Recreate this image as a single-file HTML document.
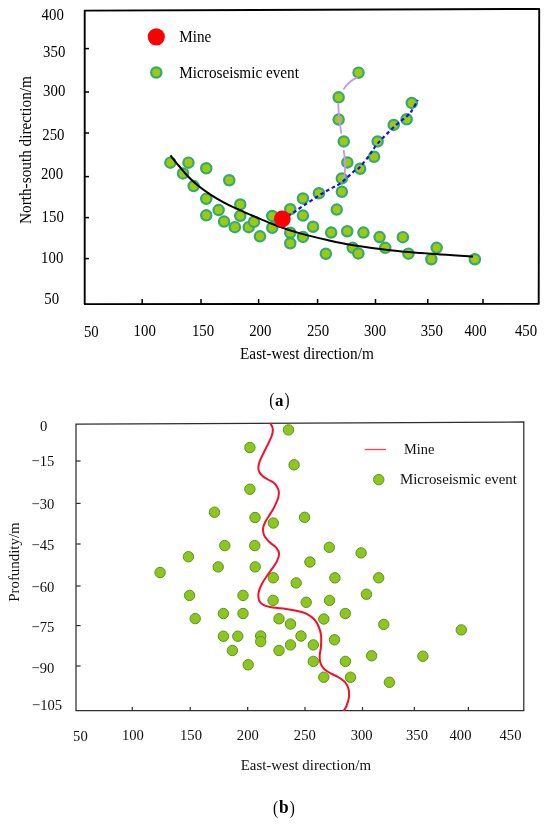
<!DOCTYPE html>
<html lang="en">
<head>
<meta charset="utf-8">
<title>Figure</title>
<style>
html,body{margin:0;padding:0;background:#fff;}
body{width:550px;height:824px;overflow:hidden;}
svg{display:block;}
</style>
</head>
<body>
<svg width="550" height="824" viewBox="0 0 550 824">
<rect width="550" height="824" fill="#fff"/>
<path d="M84.7,10.6 L539.2,8.9 L538.7,303.9 L84.7,304.1 Z" fill="none" stroke="#000" stroke-width="1.9" stroke-linejoin="round"/>
<line x1="84.7" y1="48.6" x2="89.0" y2="48.6" stroke="#000" stroke-width="1.5"/>
<line x1="84.7" y1="92" x2="89.0" y2="92" stroke="#000" stroke-width="1.5"/>
<line x1="84.7" y1="133" x2="89.0" y2="133" stroke="#000" stroke-width="1.5"/>
<line x1="84.7" y1="176.6" x2="89.0" y2="176.6" stroke="#000" stroke-width="1.5"/>
<line x1="84.7" y1="217.6" x2="89.0" y2="217.6" stroke="#000" stroke-width="1.5"/>
<line x1="84.7" y1="258.6" x2="89.0" y2="258.6" stroke="#000" stroke-width="1.5"/>
<line x1="142.2" y1="304.0" x2="142.2" y2="299.0" stroke="#000" stroke-width="1.5"/>
<line x1="201" y1="304.0" x2="201" y2="299.0" stroke="#000" stroke-width="1.5"/>
<line x1="258.6" y1="304.0" x2="258.6" y2="299.0" stroke="#000" stroke-width="1.5"/>
<line x1="317.6" y1="304.0" x2="317.6" y2="299.0" stroke="#000" stroke-width="1.5"/>
<line x1="375.5" y1="304.0" x2="375.5" y2="299.0" stroke="#000" stroke-width="1.5"/>
<line x1="427.8" y1="304.0" x2="427.8" y2="299.0" stroke="#000" stroke-width="1.5"/>
<line x1="483.0" y1="304.0" x2="483.0" y2="299.0" stroke="#000" stroke-width="1.5"/>
<g font-family="'Liberation Serif', serif" fill="#000">
<text transform="translate(52.7,20.2) scale(1,1.07)" font-size="14.8" text-anchor="middle">400</text>
<text transform="translate(54.2,57) scale(1,1.07)" font-size="14.8" text-anchor="middle">350</text>
<text transform="translate(54.2,95.6) scale(1,1.07)" font-size="14.8" text-anchor="middle">300</text>
<text transform="translate(53.4,139.6) scale(1,1.07)" font-size="14.8" text-anchor="middle">250</text>
<text transform="translate(52.0,178.7) scale(1,1.07)" font-size="14.8" text-anchor="middle">200</text>
<text transform="translate(52.7,221.6) scale(1,1.07)" font-size="14.8" text-anchor="middle">150</text>
<text transform="translate(52.2,263) scale(1,1.07)" font-size="14.8" text-anchor="middle">100</text>
<text transform="translate(51.7,304.4) scale(1,1.07)" font-size="14.8" text-anchor="middle">50</text>
<text transform="translate(91.3,336.6) scale(1,1.07)" font-size="14.8" text-anchor="middle">50</text>
<text transform="translate(144.7,335.8) scale(1,1.07)" font-size="14.8" text-anchor="middle">100</text>
<text transform="translate(203.0,335.8) scale(1,1.07)" font-size="14.8" text-anchor="middle">150</text>
<text transform="translate(260.3,335.8) scale(1,1.07)" font-size="14.8" text-anchor="middle">200</text>
<text transform="translate(318,335.8) scale(1,1.07)" font-size="14.8" text-anchor="middle">250</text>
<text transform="translate(375,335.8) scale(1,1.07)" font-size="14.8" text-anchor="middle">300</text>
<text transform="translate(431.8,335.8) scale(1,1.07)" font-size="14.8" text-anchor="middle">350</text>
<text transform="translate(475.5,335.8) scale(1,1.07)" font-size="14.8" text-anchor="middle">400</text>
<text transform="translate(526,335.8) scale(1,1.07)" font-size="14.8" text-anchor="middle">450</text>
<text transform="translate(240,359.4) scale(1,1.06)" font-size="15.2" textLength="133.8" lengthAdjust="spacingAndGlyphs">East-west direction/m</text>
<text transform="translate(31.3,224) rotate(-90) scale(1,1.08)" font-size="15.2" textLength="148" lengthAdjust="spacingAndGlyphs">North-south direction/m</text>
<text transform="translate(179.3,42.2) scale(1,1.05)" font-size="15.4" textLength="32" lengthAdjust="spacingAndGlyphs">Mine</text>
<text transform="translate(179.3,78.3) scale(1,1.05)" font-size="15.4" textLength="119.6" lengthAdjust="spacingAndGlyphs">Microseismic event</text>
<text transform="translate(269.2,405.7) scale(0.95,1.13)" font-size="16">(</text>
<text transform="translate(275.0,405.7) scale(1.06,0.98)" font-size="16" font-weight="bold">a</text>
<text transform="translate(284.5,405.7) scale(0.95,1.13)" font-size="16">)</text>
</g>
<g fill="#9bcb0b" stroke="#34a876" stroke-width="2.2">
<circle cx="170.35" cy="162.65" r="5.15"/>
<circle cx="188.45" cy="162.65" r="5.15"/>
<circle cx="183.05" cy="173.45" r="5.15"/>
<circle cx="206.25" cy="168.25" r="5.15"/>
<circle cx="193.65" cy="186.05" r="5.15"/>
<circle cx="229.25" cy="180.25" r="5.15"/>
<circle cx="206.25" cy="198.85" r="5.15"/>
<circle cx="240.25" cy="204.45" r="5.15"/>
<circle cx="218.65" cy="210.05" r="5.15"/>
<circle cx="206.25" cy="215.35" r="5.15"/>
<circle cx="240.25" cy="215.85" r="5.15"/>
<circle cx="224.05" cy="221.55" r="5.15"/>
<circle cx="234.85" cy="227.15" r="5.15"/>
<circle cx="248.75" cy="227.15" r="5.15"/>
<circle cx="254.05" cy="221.75" r="5.15"/>
<circle cx="259.95" cy="236.35" r="5.15"/>
<circle cx="272.25" cy="215.95" r="5.15"/>
<circle cx="272.25" cy="227.75" r="5.15"/>
<circle cx="290.25" cy="209.25" r="5.15"/>
<circle cx="290.25" cy="232.75" r="5.15"/>
<circle cx="290.25" cy="243.25" r="5.15"/>
<circle cx="302.95" cy="198.45" r="5.15"/>
<circle cx="302.95" cy="215.55" r="5.15"/>
<circle cx="302.95" cy="236.95" r="5.15"/>
<circle cx="318.95" cy="193.25" r="5.15"/>
<circle cx="313.05" cy="226.75" r="5.15"/>
<circle cx="325.85" cy="253.75" r="5.15"/>
<circle cx="331.15" cy="232.55" r="5.15"/>
<circle cx="336.75" cy="209.55" r="5.15"/>
<circle cx="341.85" cy="191.75" r="5.15"/>
<circle cx="341.85" cy="178.45" r="5.15"/>
<circle cx="360.15" cy="168.75" r="5.15"/>
<circle cx="347.25" cy="231.25" r="5.15"/>
<circle cx="352.75" cy="247.85" r="5.15"/>
<circle cx="358.35" cy="253.45" r="5.15"/>
<circle cx="363.45" cy="232.55" r="5.15"/>
<circle cx="379.55" cy="237.05" r="5.15"/>
<circle cx="385.25" cy="247.85" r="5.15"/>
<circle cx="402.85" cy="237.15" r="5.15"/>
<circle cx="408.45" cy="253.65" r="5.15"/>
<circle cx="431.35" cy="259.25" r="5.15"/>
<circle cx="436.65" cy="247.85" r="5.15"/>
<circle cx="474.85" cy="259.25" r="5.15"/>
<circle cx="358.55" cy="72.65" r="5.15"/>
<circle cx="338.65" cy="97.35" r="5.15"/>
<circle cx="338.65" cy="119.55" r="5.15"/>
<circle cx="343.75" cy="141.45" r="5.15"/>
<circle cx="347.35" cy="162.45" r="5.15"/>
<circle cx="411.75" cy="102.95" r="5.15"/>
<circle cx="406.65" cy="119.25" r="5.15"/>
<circle cx="393.75" cy="124.95" r="5.15"/>
<circle cx="377.65" cy="141.45" r="5.15"/>
<circle cx="374.05" cy="156.75" r="5.15"/>
<circle cx="156.3" cy="72.5" r="5.15"/>
</g>
<path d="M357.3,77.4 Q349,81 343.4,89.4" fill="none" stroke="#c996ee" stroke-width="1.8"/>
<path d="M338.2,103.5 Q338.4,119 341.4,133.6" fill="none" stroke="#c996ee" stroke-width="1.8"/>
<path d="M343.7,150 Q346.5,167 343.8,180" fill="none" stroke="#c996ee" stroke-width="1.8"/>
<path d="M170.5,155.3 C171.1,156.1 172.7,158.4 174.0,160.0 C175.3,161.6 176.0,162.4 178.2,165.0 C180.4,167.6 184.0,172.2 187.3,175.7 C190.6,179.1 194.3,182.5 198.2,185.7 C202.1,188.9 206.7,192.0 210.9,194.8 C215.1,197.6 219.3,200.0 223.6,202.3 C227.8,204.6 231.8,206.5 236.4,208.6 C241.0,210.7 247.0,213.3 250.9,215.0 C254.8,216.7 255.9,217.1 260.0,218.8 C264.1,220.5 268.6,222.8 275.4,225.3 C282.2,227.8 292.2,231.2 300.9,233.6 C309.5,236.0 318.8,238.1 327.3,240.0 C335.8,241.9 341.4,243.3 351.8,245.0 C362.2,246.7 378.5,248.9 390.0,250.2 C401.5,251.5 407.2,251.9 421.0,253.0 C434.8,254.1 464.3,255.9 473.0,256.5" fill="none" stroke="#000" stroke-width="2.0"/>
<path d="M282.0,219.0 C283.4,218.2 287.2,216.4 290.7,214.3 C294.1,212.2 298.0,209.3 302.7,206.2 C307.4,203.1 314.0,198.6 318.8,195.6 C323.6,192.6 327.7,190.4 331.4,188.3 C335.1,186.2 337.2,185.9 341.0,183.0 C344.8,180.1 351.2,173.6 354.3,171.0 C357.4,168.4 357.4,169.8 359.8,167.3 C362.2,164.8 365.8,160.1 368.7,156.2 C371.6,152.3 373.1,148.9 377.3,144.0 C381.5,139.1 389.2,131.4 394.1,126.8 C399.0,122.2 403.9,119.0 406.9,116.3 C409.9,113.5 410.2,113.0 412.0,110.3 C413.8,107.6 416.8,101.7 417.8,100.0" fill="none" stroke="#1010f5" stroke-width="2.2" stroke-dasharray="3.6 2.9"/>
<circle cx="282.3" cy="219" r="8.4" fill="#ff0000"/>
<circle cx="156.3" cy="36.8" r="8.6" fill="#ff0000"/>
<path d="M76,424.2 L523.8,422.0 L523.8,710.7 L76,710.7 Z" fill="none" stroke="#2e2e2e" stroke-width="1.25"/>
<line x1="76.0" y1="461" x2="80.6" y2="461" stroke="#2e2e2e" stroke-width="1.2"/>
<line x1="76.0" y1="503.4" x2="80.6" y2="503.4" stroke="#2e2e2e" stroke-width="1.2"/>
<line x1="76.0" y1="544" x2="80.6" y2="544" stroke="#2e2e2e" stroke-width="1.2"/>
<line x1="76.0" y1="586" x2="80.6" y2="586" stroke="#2e2e2e" stroke-width="1.2"/>
<line x1="76.0" y1="625.6" x2="80.6" y2="625.6" stroke="#2e2e2e" stroke-width="1.2"/>
<line x1="76.0" y1="666" x2="80.6" y2="666" stroke="#2e2e2e" stroke-width="1.2"/>
<line x1="132.2" y1="710.7" x2="132.2" y2="707.1" stroke="#2e2e2e" stroke-width="1.2"/>
<line x1="190.2" y1="710.7" x2="190.2" y2="707.1" stroke="#2e2e2e" stroke-width="1.2"/>
<line x1="247.7" y1="710.7" x2="247.7" y2="707.1" stroke="#2e2e2e" stroke-width="1.2"/>
<line x1="305" y1="710.7" x2="305" y2="707.1" stroke="#2e2e2e" stroke-width="1.2"/>
<line x1="362.5" y1="710.7" x2="362.5" y2="707.1" stroke="#2e2e2e" stroke-width="1.2"/>
<line x1="414.3" y1="710.7" x2="414.3" y2="707.1" stroke="#2e2e2e" stroke-width="1.2"/>
<line x1="468.4" y1="710.7" x2="468.4" y2="707.1" stroke="#2e2e2e" stroke-width="1.2"/>
<g font-family="'Liberation Serif', serif" fill="#111">
<text transform="translate(43.6,431.4) scale(1,1.04)" font-size="14.6" text-anchor="middle">0</text>
<text transform="translate(43,466) scale(1,1.04)" font-size="14.6" text-anchor="middle">−15</text>
<text transform="translate(43,509) scale(1,1.04)" font-size="14.6" text-anchor="middle">−30</text>
<text transform="translate(43,549.6) scale(1,1.04)" font-size="14.6" text-anchor="middle">−45</text>
<text transform="translate(43,592.4) scale(1,1.04)" font-size="14.6" text-anchor="middle">−60</text>
<text transform="translate(43,631.6) scale(1,1.04)" font-size="14.6" text-anchor="middle">−75</text>
<text transform="translate(43,673) scale(1,1.04)" font-size="14.6" text-anchor="middle">−90</text>
<text transform="translate(47,709.5) scale(1,1.04)" font-size="14.6" text-anchor="middle">−105</text>
<text transform="translate(80.4,741.2) scale(1,1.04)" font-size="14.6" text-anchor="middle">50</text>
<text transform="translate(132.9,740) scale(1,1.04)" font-size="14.6" text-anchor="middle">100</text>
<text transform="translate(191,740) scale(1,1.04)" font-size="14.6" text-anchor="middle">150</text>
<text transform="translate(247.8,740) scale(1,1.04)" font-size="14.6" text-anchor="middle">200</text>
<text transform="translate(304.8,740) scale(1,1.04)" font-size="14.6" text-anchor="middle">250</text>
<text transform="translate(361.6,740) scale(1,1.04)" font-size="14.6" text-anchor="middle">300</text>
<text transform="translate(417,740) scale(1,1.04)" font-size="14.6" text-anchor="middle">350</text>
<text transform="translate(460.5,740) scale(1,1.04)" font-size="14.6" text-anchor="middle">400</text>
<text transform="translate(510.5,740) scale(1,1.04)" font-size="14.6" text-anchor="middle">450</text>
<text transform="translate(240.7,769.7) scale(1,1.03)" font-size="14.9" textLength="130.3" lengthAdjust="spacingAndGlyphs">East-west direction/m</text>
<text transform="translate(19.4,601.8) rotate(-90) scale(1,1.03)" font-size="14.9" textLength="79.4" lengthAdjust="spacingAndGlyphs">Profundity/m</text>
<text transform="translate(404,453.8) scale(1,1.03)" font-size="14.6" textLength="30.4" lengthAdjust="spacingAndGlyphs">Mine</text>
<text transform="translate(400,483.9) scale(1,1.03)" font-size="14.9" textLength="116.9" lengthAdjust="spacingAndGlyphs">Microseismic event</text>
<text transform="translate(273.1,813.6) scale(0.95,1.13)" font-size="16" fill="#000">(</text>
<text transform="translate(278.9,813.4) scale(1.02,1.09)" font-size="17" font-weight="bold" fill="#000">b</text>
<text transform="translate(289.8,813.6) scale(0.95,1.13)" font-size="16" fill="#000">)</text>
</g>
<g fill="#8cc71b" stroke="#5b922a" stroke-width="1">
<circle cx="288.5" cy="429.9" r="5.2"/>
<circle cx="249.9" cy="447.5" r="5.2"/>
<circle cx="294.1" cy="464.8" r="5.2"/>
<circle cx="249.9" cy="489.2" r="5.2"/>
<circle cx="214.5" cy="512.2" r="5.2"/>
<circle cx="255" cy="517.5" r="5.2"/>
<circle cx="273.3" cy="523" r="5.2"/>
<circle cx="304.6" cy="517.3" r="5.2"/>
<circle cx="224.8" cy="545.6" r="5.2"/>
<circle cx="254.8" cy="545.6" r="5.2"/>
<circle cx="329.3" cy="547.3" r="5.2"/>
<circle cx="361.1" cy="552.9" r="5.2"/>
<circle cx="188.4" cy="556.7" r="5.2"/>
<circle cx="218.2" cy="566.9" r="5.2"/>
<circle cx="255.2" cy="566.9" r="5.2"/>
<circle cx="309.9" cy="562" r="5.2"/>
<circle cx="160.1" cy="572.5" r="5.2"/>
<circle cx="273.3" cy="577.8" r="5.2"/>
<circle cx="296.2" cy="582.9" r="5.2"/>
<circle cx="334.9" cy="577.8" r="5.2"/>
<circle cx="378.7" cy="577.8" r="5.2"/>
<circle cx="189.6" cy="595.4" r="5.2"/>
<circle cx="243" cy="595.4" r="5.2"/>
<circle cx="273.1" cy="600.4" r="5.2"/>
<circle cx="306.2" cy="602.3" r="5.2"/>
<circle cx="329.5" cy="600.4" r="5.2"/>
<circle cx="366.4" cy="594.2" r="5.2"/>
<circle cx="195.2" cy="618.6" r="5.2"/>
<circle cx="223.4" cy="613.5" r="5.2"/>
<circle cx="243" cy="613.5" r="5.2"/>
<circle cx="345.3" cy="613.5" r="5.2"/>
<circle cx="323.8" cy="619" r="5.2"/>
<circle cx="279" cy="618.8" r="5.2"/>
<circle cx="290.5" cy="624" r="5.2"/>
<circle cx="383.8" cy="624.4" r="5.2"/>
<circle cx="461.3" cy="629.9" r="5.2"/>
<circle cx="223.4" cy="636.2" r="5.2"/>
<circle cx="237.8" cy="636.2" r="5.2"/>
<circle cx="260.7" cy="636" r="5.2"/>
<circle cx="260.7" cy="641.6" r="5.2"/>
<circle cx="301" cy="636" r="5.2"/>
<circle cx="334.5" cy="639.8" r="5.2"/>
<circle cx="232.4" cy="650.5" r="5.2"/>
<circle cx="279" cy="650.5" r="5.2"/>
<circle cx="290.5" cy="644.9" r="5.2"/>
<circle cx="313.3" cy="644.9" r="5.2"/>
<circle cx="313.3" cy="661.4" r="5.2"/>
<circle cx="345.4" cy="661.4" r="5.2"/>
<circle cx="371.6" cy="655.8" r="5.2"/>
<circle cx="422.9" cy="656.2" r="5.2"/>
<circle cx="248.2" cy="664.8" r="5.2"/>
<circle cx="323.8" cy="677.2" r="5.2"/>
<circle cx="350.5" cy="677.2" r="5.2"/>
<circle cx="389.4" cy="682.3" r="5.2"/>
<circle cx="378.8" cy="479.6" r="5.2"/>
</g>
<path d="M270.3,423.0 C270.6,423.7 272.0,426.0 272.4,427.3 C272.8,428.6 272.9,429.5 272.8,430.9 C272.7,432.3 272.4,434.0 271.8,435.8 C271.2,437.6 270.1,439.8 269.1,441.8 C268.2,443.8 267.2,445.7 266.1,447.9 C265.0,450.1 263.6,453.0 262.5,455.2 C261.4,457.4 260.4,459.3 259.7,461.3 C259.0,463.3 258.4,465.5 258.4,467.3 C258.3,469.1 258.6,470.7 259.4,472.2 C260.2,473.7 261.7,475.2 263.1,476.4 C264.5,477.6 266.2,478.5 267.9,479.5 C269.6,480.5 271.9,481.3 273.4,482.5 C274.9,483.7 276.1,485.2 277.0,486.7 C277.9,488.2 278.6,489.8 278.8,491.6 C279.0,493.4 278.7,495.7 278.2,497.7 C277.7,499.7 276.7,501.7 275.8,503.7 C274.9,505.7 274.0,507.8 272.8,509.8 C271.6,511.9 270.1,514.1 268.9,516.0 C267.7,517.9 266.6,519.2 265.6,521.3 C264.6,523.3 263.3,525.9 263.1,528.3 C262.9,530.7 263.2,533.3 264.3,535.6 C265.4,537.9 267.7,540.3 269.7,542.3 C271.7,544.3 274.8,545.9 276.4,547.8 C278.0,549.7 279.0,551.6 279.1,553.8 C279.2,556.0 278.1,558.7 277.0,561.1 C275.9,563.5 274.0,566.0 272.3,568.4 C270.6,570.8 268.8,573.1 267.0,575.7 C265.2,578.3 263.1,581.4 261.7,584.2 C260.3,587.0 259.0,589.9 258.6,592.7 C258.2,595.5 258.4,599.1 259.4,601.2 C260.3,603.3 262.1,604.4 264.3,605.4 C266.5,606.4 269.2,606.9 272.8,607.5 C276.4,608.1 281.8,608.3 286.1,608.9 C290.4,609.5 295.0,610.4 298.4,611.2 C301.8,612.0 304.0,612.5 306.7,613.9 C309.4,615.3 312.4,617.4 314.4,619.5 C316.4,621.6 317.5,623.9 318.6,626.5 C319.7,629.1 320.6,631.6 321.0,634.9 C321.4,638.1 321.2,642.5 321.0,646.0 C320.8,649.5 319.8,653.0 319.7,655.8 C319.6,658.6 319.8,660.7 320.4,662.8 C321.0,664.9 322.1,666.7 323.5,668.3 C324.9,669.9 326.8,671.1 329.1,672.5 C331.4,673.9 334.7,675.1 337.4,676.7 C340.1,678.3 343.2,680.2 345.1,682.3 C347.0,684.4 348.0,686.8 348.6,689.3 C349.2,691.8 349.2,694.8 348.9,697.6 C348.5,700.4 347.4,703.8 346.5,706.0 C345.6,708.2 344.2,709.9 343.7,710.7" fill="none" stroke="#f5102a" stroke-width="2"/>
<line x1="364.7" y1="449.5" x2="386" y2="449.5" stroke="#ff4050" stroke-width="1.3"/>
</svg>
</body>
</html>
